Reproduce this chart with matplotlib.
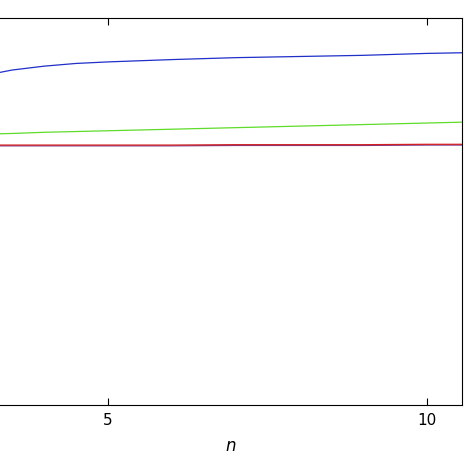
import matplotlib.pyplot as plt

n = [3, 3.5, 4, 4.5, 5, 6, 7, 8, 9, 10, 11]
blue = [0.850, 0.866, 0.876, 0.883, 0.887, 0.893, 0.898, 0.901, 0.904, 0.909, 0.912]
green = [0.700, 0.702, 0.705, 0.707, 0.709, 0.713, 0.717, 0.721, 0.725, 0.729, 0.733]
red = [0.672, 0.672, 0.672, 0.672, 0.672, 0.672, 0.673, 0.673, 0.673, 0.674, 0.674]
purple = [0.670, 0.670, 0.670, 0.670, 0.670, 0.670, 0.671, 0.671, 0.671, 0.672, 0.672]

fig = plt.figure(figsize=(4.74, 4.74), dpi=100)
ax = fig.add_axes([0.0, 0.1456, 0.975, 0.816])

ax.plot(n, blue, color="#1f2fc8", lw=0.9)
ax.plot(n, green, color="#5ddc2a", lw=0.9)
ax.plot(n, purple, color="#7a3a8a", lw=0.9)
ax.plot(n, red, color="#d42020", lw=0.9)

ax.set_xlim(3.31, 10.55)
ax.set_ylim(0, 1)
ax.set_xticks([5, 10])
ax.set_yticks([])
ax.tick_params(axis="x", direction="in", top=True, length=5, labelsize=11, pad=6)
ax.spines["left"].set_visible(False)
ax.set_xlabel("$n$", fontsize=12, labelpad=6)

plt.savefig("out.png", dpi=100)
